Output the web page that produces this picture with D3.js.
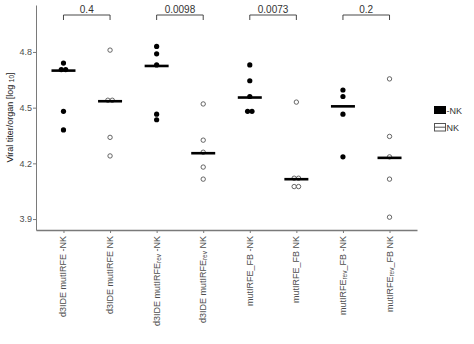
<!DOCTYPE html>
<html><head><meta charset="utf-8">
<script src="https://cdn.jsdelivr.net/npm/d3@7"></script>
<style>body{margin:0;background:#fff}svg{display:block;font-family:"Liberation Sans",Arial,sans-serif}</style>
</head><body><svg id="c" width="474" height="344"></svg>
<script>
const categories = [
  ["d3IDE mutIRFE -NK", "d3IDE mutIRFE", "", " -NK"],
  ["d3IDE mutIRFE NK", "d3IDE mutIRFE", "", " NK"],
  ["d3IDE mutIRFErev -NK", "d3IDE mutIRFE", "rev", " -NK"],
  ["d3IDE mutIRFErev NK", "d3IDE mutIRFE", "rev", " NK"],
  ["mutIRFE_FB -NK", "mutIRFE_FB", "", " -NK"],
  ["mutIRFE_FB NK", "mutIRFE_FB", "", " NK"],
  ["mutIRFErev_FB -NK", "mutIRFE", "rev", "_FB -NK"],
  ["mutIRFErev_FB NK", "mutIRFE", "rev", "_FB NK"]
];
const groupOf = ["-NK","NK","-NK","NK","-NK","NK","-NK","NK"];
const values = [
  [4.74, 4.705, 4.705, 4.48, 4.38],
  [4.81, 4.54, 4.54, 4.34, 4.24],
  [4.83, 4.79, 4.73, 4.465, 4.435],
  [4.52, 4.325, 4.26, 4.18, 4.115],
  [4.73, 4.645, 4.56, 4.48, 4.48],
  [4.53, 4.12, 4.12, 4.075, 4.075],
  [4.595, 4.56, 4.465, 4.235],
  [4.655, 4.345, 4.235, 4.115, 3.91]
];
const yTicks = [3.9, 4.2, 4.5, 4.8];
const comparisons = [[0,1,"0.4"],[2,3,"0.0098"],[4,5,"0.0073"],[6,7,"0.2"]];
const legendItems = ["-NK","NK"];

const svg = d3.select("#c");
const L = 36, R = 417, T = 5, B = 230;
const x = d3.scalePoint().domain(categories.map(c=>c[0])).range([L,R]).padding(0.59);
const y = d3.scaleLinear().domain([3.841, 5.053]).range([B,T]);
const axisCol = "#7a7a7a", textCol = "#4d4d4d";

// y axis
const ya = svg.append("g").attr("transform",`translate(${L},0)`)
  .call(d3.axisLeft(y).tickValues(yTicks).tickFormat(d3.format(".1f")).tickSize(3).tickSizeOuter(0));
ya.select(".domain").attr("stroke",axisCol);
ya.selectAll(".tick line").attr("stroke",axisCol);
ya.selectAll(".tick text").attr("fill",textCol).attr("font-size",9).attr("x",-4).attr("font-family","Liberation Sans, Arial, sans-serif");

// x axis
const xa = svg.append("g").attr("transform",`translate(0,${B})`)
  .call(d3.axisBottom(x).tickSize(3).tickSizeOuter(0).tickFormat(""));
xa.select(".domain").attr("stroke",axisCol).attr("stroke-width",1.3);
xa.selectAll(".tick line").attr("stroke",axisCol);
categories.forEach(c=>{
  const t = svg.append("text")
    .attr("transform",`translate(${x(c[0])+3},${B+6}) rotate(-90)`)
    .attr("text-anchor","end").attr("fill",textCol).attr("font-size",9);
  t.append("tspan").text(c[1]);
  if (c[2]) t.append("tspan").attr("font-size",6.5).attr("dy",1).text(c[2]);
  t.append("tspan").attr("dy", c[2] ? -1 : 0).text(c[3]);
});

// y title
const yt = svg.append("text").attr("transform",`translate(13,${(T+B)/2}) rotate(-90)`)
  .attr("text-anchor","middle").attr("fill","#222").attr("font-size",9);
yt.append("tspan").text("Viral titer/organ [log ");
yt.append("tspan").attr("font-size",6.5).attr("dy",1).text("10");
yt.append("tspan").attr("dy",-1).text("]");

// points with dodge for ties
values.forEach((vals,i)=>{
  const cx = x(categories[i][0]);
  const filled = groupOf[i]==="-NK";
  const counts = d3.rollup(vals, v=>v.length, d=>d);
  const seen = new Map();
  vals.forEach(v=>{
    const n = counts.get(v), k = seen.get(v)||0; seen.set(v,k+1);
    const dx = (k-(n-1)/2)*4.4;
    svg.append("circle").attr("cx",cx+dx).attr("cy",y(v)).attr("r",filled?2.6:2.2)
      .attr("fill",filled?"#000":"#fff").attr("stroke",filled?"#000":"#555").attr("stroke-width",filled?0:0.9);
  });
  const med = d3.median(vals);
  svg.append("line").attr("x1",cx-12).attr("x2",cx+12).attr("y1",y(med)+1).attr("y2",y(med)+1)
    .attr("stroke","#000").attr("stroke-width",2.6);
});

// comparison brackets
comparisons.forEach(([a,b,lab])=>{
  const x1 = x(categories[a][0]), x2 = x(categories[b][0]);
  svg.append("path").attr("d",`M${x1},20V15H${x2}V20`).attr("fill","none").attr("stroke","#333").attr("stroke-width",0.9);
  svg.append("text").attr("x",(x1+x2)/2).attr("y",12.5).attr("text-anchor","middle").attr("fill","#333").attr("font-size",10).text(lab);
});

// legend
const lg = svg.append("g").attr("transform","translate(434,106)");
legendItems.forEach((g,i)=>{
  const gy = i*17;
  if (g==="-NK") {
    lg.append("rect").attr("x",0).attr("y",gy).attr("width",12).attr("height",8).attr("fill","#000");
  } else {
    lg.append("rect").attr("x",0.5).attr("y",gy+0.5).attr("width",11).attr("height",7.5).attr("fill","#fff").attr("stroke","#555").attr("stroke-width",1);
    lg.append("line").attr("x1",0.5).attr("x2",11.5).attr("y1",gy+4.2).attr("y2",gy+4.2).attr("stroke","#555").attr("stroke-width",1);
  }
  lg.append("text").attr("x",12.5).attr("y",gy+7.5).attr("fill","#333").attr("font-size",9).text(g);
});
</script></body></html>
